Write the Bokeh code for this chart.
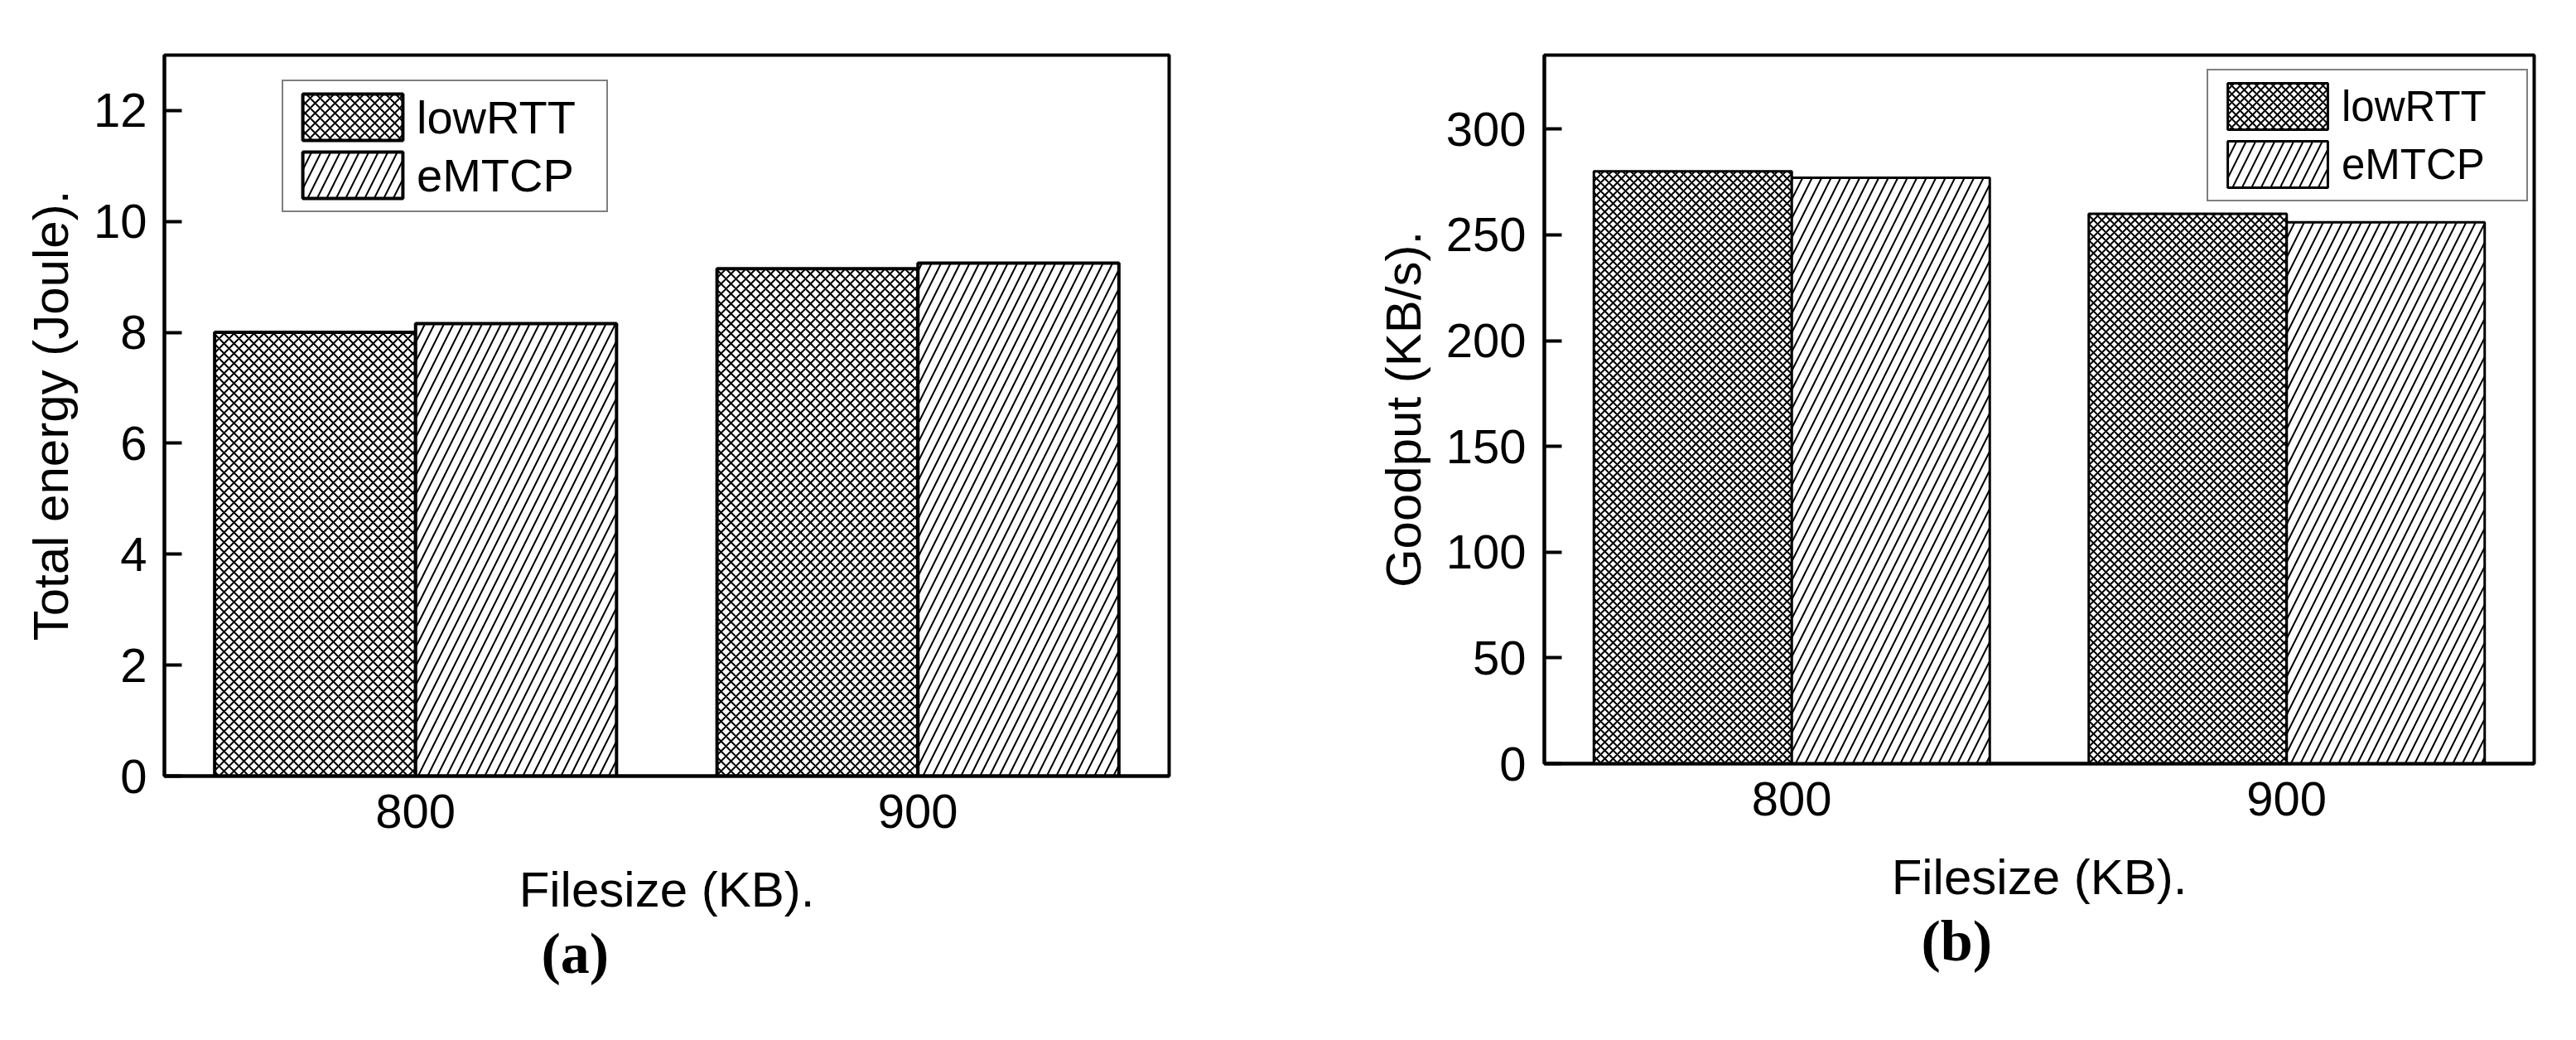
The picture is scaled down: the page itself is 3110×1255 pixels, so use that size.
from bokeh.plotting import figure
from bokeh.models import (Range1d, FixedTicker, ColumnDataSource, Legend,
                          LegendItem, Title)
from bokeh.transform import dodge
from bokeh.layouts import row
from bokeh.embed import file_html
from bokeh.resources import INLINE

# ---------------- data ----------------
filesizes = [800, 900]
filesize_ticks = [800, 900]
series_names = ["lowRTT", "eMTCP"]

energy_lowrtt = [8.0, 9.15]
energy_emtcp = [8.16, 9.25]
energy_ticks = [0, 2, 4, 6, 8, 10, 12]

goodput_lowrtt = [280, 260]
goodput_emtcp = [277, 256]
goodput_ticks = [0, 50, 100, 150, 200, 250, 300]

x_title = "Filesize (KB)."
captions = ["(a)", "(b)"]

SANS = "Liberation Sans"
SERIF = "Liberation Serif"
FIG_H = 1239


def panel(mb_left, mb_right, mb_top, frame_w, frame_h, ymax, yticks,
          low, em, ylabel, bar_lw, cross_scale, diag_scale, ytick_standoff,
          legend_font, legend_x, legend_y, label_width, caption, cap_offset):
    p = figure(title=None, frame_width=frame_w, frame_height=frame_h,
               output_backend="svg", toolbar_location=None,
               x_range=Range1d(750, 950), y_range=Range1d(0, ymax),
               min_border_left=mb_left, min_border_right=mb_right,
               min_border_top=mb_top,
               min_border_bottom=FIG_H - mb_top - frame_h)
    p.background_fill_color = "white"
    p.border_fill_color = "white"
    p.outline_line_color = "black"
    p.outline_line_width = 4
    p.xgrid.visible = False
    p.ygrid.visible = False

    src = ColumnDataSource(dict(size=filesizes, low=low, em=em))
    r1 = p.vbar(x=dodge("size", -20, range=p.x_range), top="low", width=40,
                source=src, fill_color="white", line_color="black",
                line_width=bar_lw, hatch_pattern="x", hatch_color="black",
                hatch_scale=cross_scale, hatch_weight=2)
    r2 = p.vbar(x=dodge("size", 20, range=p.x_range), top="em", width=40,
                source=src, fill_color="white", line_color="black",
                line_width=bar_lw, hatch_pattern="/", hatch_color="black",
                hatch_scale=diag_scale, hatch_weight=2)

    xa = p.xaxis[0]
    xa.ticker = FixedTicker(ticks=filesize_ticks)
    xa.axis_label = x_title
    xa.major_tick_in = 0
    xa.major_tick_out = 0
    xa.minor_tick_in = 0
    xa.minor_tick_out = 0
    xa.axis_line_width = 4
    xa.major_label_standoff = 22
    xa.axis_label_standoff = 38

    ya = p.yaxis[0]
    ya.ticker = FixedTicker(ticks=yticks)
    ya.axis_label = ylabel
    ya.major_tick_in = 21
    ya.major_tick_out = 0
    ya.minor_tick_in = 0
    ya.minor_tick_out = 0
    ya.major_tick_line_width = 4
    ya.axis_line_width = 4
    ya.major_label_standoff = ytick_standoff
    ya.axis_label_standoff = 15

    for ax in (xa, ya):
        ax.axis_line_color = "black"
        ax.major_tick_line_color = "black"
        ax.major_label_text_font = SANS
        ax.major_label_text_font_size = "58px"
        ax.major_label_text_color = "black"
        ax.axis_label_text_font = SANS
        ax.axis_label_text_font_size = "60px"
        ax.axis_label_text_font_style = "normal"
        ax.axis_label_text_color = "black"

    legend = Legend(items=[LegendItem(label=series_names[0], renderers=[r1]),
                           LegendItem(label=series_names[1], renderers=[r2])],
                    location=(legend_x, legend_y))
    legend.border_line_color = "black"
    legend.border_line_width = 2
    legend.background_fill_color = "white"
    legend.background_fill_alpha = 1.0
    legend.label_text_font = SANS
    legend.label_text_font_size = legend_font
    legend.label_text_color = "black"
    legend.glyph_width = 151
    legend.glyph_height = 70
    legend.spacing = 0
    legend.padding = 8
    legend.margin = 0
    legend.label_standoff = 2
    legend.label_width = label_width
    legend.label_height = 20
    p.add_layout(legend)

    # sub-figure caption below the x-axis title
    cap = Title(text=caption, align="left", offset=cap_offset,
                vertical_align="bottom", text_baseline="top", standoff=0,
                text_font=SERIF, text_font_size="70px",
                text_font_style="bold", text_color="black")
    p.add_layout(cap, "below")
    return p


p1 = panel(mb_left=198, mb_right=141, mb_top=51, frame_w=1213, frame_h=870,
           ymax=13, yticks=energy_ticks, low=energy_lowrtt, em=energy_emtcp,
           ylabel="Total energy (Joule).", bar_lw=4, cross_scale=12,
           diag_scale=23, ytick_standoff=21, legend_font="56px",
           legend_x=142, legend_y=680, label_width=221,
           caption=captions[0], cap_offset=455)

p2 = panel(mb_left=312, mb_right=29, mb_top=66, frame_w=1195, frame_h=855,
           ymax=335, yticks=goodput_ticks, low=goodput_lowrtt,
           em=goodput_emtcp, ylabel="Goodput (KB/s).", bar_lw=3,
           cross_scale=10, diag_scale=23, ytick_standoff=22,
           legend_font="51px", legend_x=800, legend_y=678, label_width=215,
           caption=captions[1], cap_offset=455)

layout = row(p1, p2)
open("out.html", "w").write(file_html(layout, INLINE))
